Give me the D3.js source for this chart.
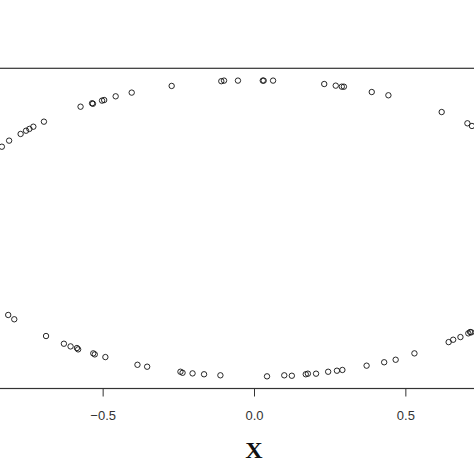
<!DOCTYPE html>
<html>
<head>
<meta charset="utf-8">
<script src="https://d3js.org/d3.v7.min.js"></script>
<style>
    body { margin: 0; background: #fff; }
    svg { display: block; }
</style>
</head>
<body>
<script>
// points (upper arc, then lower arc)
const topX = [-0.833, -0.809, -0.771, -0.753, -0.742, -0.729, -0.694, -0.573, -0.535, -0.532,
    -0.502, -0.495, -0.457, -0.404, -0.272, -0.108, -0.099, -0.053, 0.029, 0.032,
    0.063, 0.232, 0.270, 0.290, 0.297, 0.389, 0.444, 0.620, 0.705, 0.720];
const topY = [0.551, 0.592, 0.637, 0.659, 0.671, 0.686, 0.720, 0.821, 0.844, 0.841,
    0.862, 0.866, 0.891, 0.916, 0.961, 0.993, 0.997, 0.997, 0.997, 0.997,
    0.997, 0.974, 0.963, 0.956, 0.956, 0.920, 0.898, 0.785, 0.709, 0.691];
const botX = [-0.812, -0.792, -0.687, -0.628, -0.606, -0.585, -0.581, -0.531, -0.526, -0.491,
    -0.385, -0.353, -0.243, -0.236, -0.203, -0.165, -0.111, 0.043, 0.100, 0.125,
    0.171, 0.178, 0.205, 0.245, 0.274, 0.292, 0.372, 0.430, 0.468, 0.530,
    0.643, 0.658, 0.682, 0.708, 0.714, 0.718];
const botY = [-0.584, -0.613, -0.726, -0.778, -0.796, -0.807, -0.816, -0.843, -0.850, -0.868,
    -0.920, -0.933, -0.967, -0.974, -0.978, -0.984, -0.991, -0.998, -0.991, -0.994,
    -0.984, -0.980, -0.980, -0.967, -0.960, -0.955, -0.926, -0.903, -0.886, -0.843,
    -0.767, -0.751, -0.733, -0.708, -0.699, -0.701];
const xTicks = [-0.5, 0, 0.5];
const xTitle = "X";

const width = 474, height = 474;
const points = topX.map((x, i) => [x, topY[i]])
    .concat(botX.map((x, i) => [x, botY[i]]));

let svg = d3.select("body").append("svg")
    .attr("width", width)
    .attr("height", height);

// plot box runs wider than the window, like the cropped figure
let xScale = d3.scaleLinear().domain([-1.08, 1.08]).range([254 - 1.08 * 302.7, 254 + 1.08 * 302.7]);
let yScale = d3.scaleLinear().domain([-1.08, 1.08]).range([388.5, 68.3]);

svg.append("rect")
    .attr("x", xScale(-1.08))
    .attr("y", yScale(1.08))
    .attr("width", xScale(1.08) - xScale(-1.08))
    .attr("height", yScale(-1.08) - yScale(1.08))
    .attr("fill", "none")
    .attr("stroke", "#333")
    .attr("stroke-width", 1.2);

let axis = svg.append("g")
    .attr("transform", "translate(0," + yScale(-1.08) + ")")
    .call(d3.axisBottom(xScale)
        .tickValues(xTicks)
        .tickSize(8)
        .tickPadding(14)
        .tickFormat(d3.format(".1f")));
axis.select(".domain").remove();
axis.selectAll("line").attr("stroke", "#333");
axis.selectAll("text")
    .attr("fill", "#333")
    .attr("font-family", "Liberation Sans, Arial, sans-serif")
    .attr("font-size", "13px");

svg.append("text")
    .attr("x", xScale(0))
    .attr("y", 457.5)
    .attr("text-anchor", "middle")
    .attr("font-family", "Liberation Serif, Times New Roman, serif")
    .attr("font-weight", "bold")
    .attr("font-size", "24px")
    .attr("fill", "#111")
    .text(xTitle);

svg.append("g").selectAll("circle")
    .data(points)
    .enter()
    .append("circle")
    .attr("cx", d => xScale(d[0]))
    .attr("cy", d => yScale(d[1]))
    .attr("r", 2.7)
    .attr("fill", "none")
    .attr("stroke", "#111")
    .attr("stroke-width", 0.9);
</script>
</body>
</html>
